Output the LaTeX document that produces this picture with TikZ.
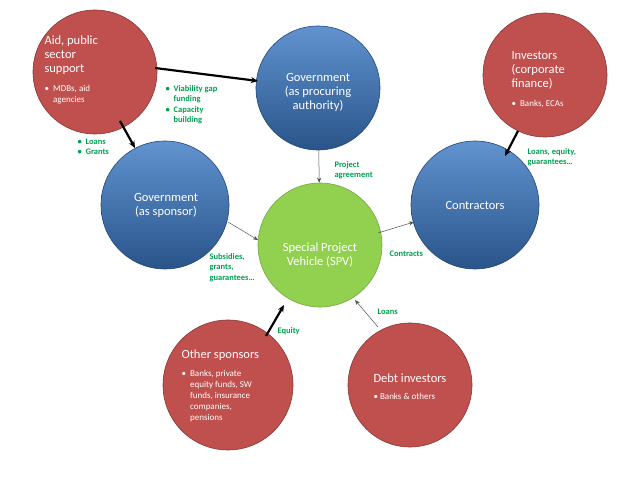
\documentclass[tikz,border=0pt]{standalone}
\usepackage{fontspec}
\setmainfont{Carlito}
\usetikzlibrary{arrows.meta}
\definecolor{cred}{HTML}{C0504D}
\definecolor{cblue}{HTML}{3A78C4}
\definecolor{cgreen}{HTML}{92D050}
\definecolor{lgreen}{HTML}{00A050}
\tikzset{
 circ/.style={circle,minimum size=#1,inner sep=0pt},
 redc/.style={circ=124pt,fill=cred,draw=cred!70!black,line width=0.6pt},
 bluec/.style={circ=128pt,top color=cblue!80!white,bottom color=cblue!70!black,draw=cblue!60!black,line width=0.6pt},
 title/.style={text=white,font=\fontsize{12.5}{14}\selectfont,align=left,anchor=north west},
 ctitle/.style={text=white,font=\fontsize{12.5}{14}\selectfont,align=center},
 bul/.style={text=white,font=\fontsize{9}{11}\selectfont,align=left,anchor=north west},
 lab/.style={text=lgreen,font=\bfseries\fontsize{8.5}{10.5}\selectfont,align=left,anchor=north west},
 thick arr/.style={-{Stealth[length=7pt,width=6pt]},line width=2.2pt},
 thin arr/.style={-{Stealth[length=5pt,width=4pt]},line width=0.5pt,draw=black!70}
}
\begin{document}
\begin{tikzpicture}[x=1pt,y=-1pt]
\useasboundingbox (0,0) rectangle (638,478);
\node[redc] (aid) at (95,72) {};
\node[bluec,circ=124pt] (gp) at (318,88) {};
\node[redc] (inv) at (545,75) {};
\node[bluec] (gs) at (165,205) {};
\node[circ=124pt,fill=cgreen,draw=cgreen!80!black,line width=0.6pt] (spv) at (320,245) {};
\node[bluec] (con) at (475,205) {};
\node[redc,circ=130pt] (os) at (228,385) {};
\node[redc] (di) at (410,385) {};

\node[title] at (41,32) {Aid, public\\sector\\support};
\node[bul] at (41,82) {•\ \ MDBs, aid\\\phantom{•\ \ }agencies};
\node[ctitle] at (318,92) {Government\\(as procuring\\authority)};
\node[title] at (508,48) {Investors\\(corporate\\finance)};
\node[bul] at (508,97) {•\ \ Banks, ECAs};
\node[ctitle] at (166,205) {Government\\(as sponsor)};
\node[text=white,font=\fontsize{12.5}{14}\selectfont,align=center] at (320,255) {Special Project\\Vehicle (SPV)};
\node[ctitle] at (475,205) {Contractors};
\node[title] at (178,346) {Other sponsors};
\node[bul] at (178,367) {•\ \ Banks, private\\\phantom{•\ \ }equity funds, SW\\\phantom{•\ \ }funds, insurance\\\phantom{•\ \ }companies,\\\phantom{•\ \ }pensions};
\node[title] at (370,370) {Debt investors};
\node[bul] at (370,390) {•\ Banks \& others};

\draw[thick arr] (155,68) -- (258,81);
\draw[thick arr] (120,121) -- (135,148);
\draw[thick arr] (518,131) -- (505,156);
\draw[thick arr] (266,336) -- (284,305);
\draw[thin arr] (gp) -- (spv);
\draw[thin arr] (228,222) -- (258,240);
\draw[thin arr] (378,233) -- (414,222);
\draw[thin arr] (378,327) -- (355,300);

\node[lab] at (162,82) {•\ \ Viability gap\\\phantom{•\ \ }funding\\•\ \ Capacity\\\phantom{•\ \ }building};
\node[lab] at (74,135) {•\ \ Loans\\•\ \ Grants};
\node[lab] at (331,158) {Project\\agreement};
\node[lab] at (524,145) {Loans, equity,\\guarantees…};
\node[lab] at (206,250) {Subsidies,\\grants,\\guarantees…};
\node[lab] at (386,247) {Contracts};
\node[lab] at (374,305) {Loans};
\node[lab] at (274,324) {Equity};
\end{tikzpicture}
\end{document}
